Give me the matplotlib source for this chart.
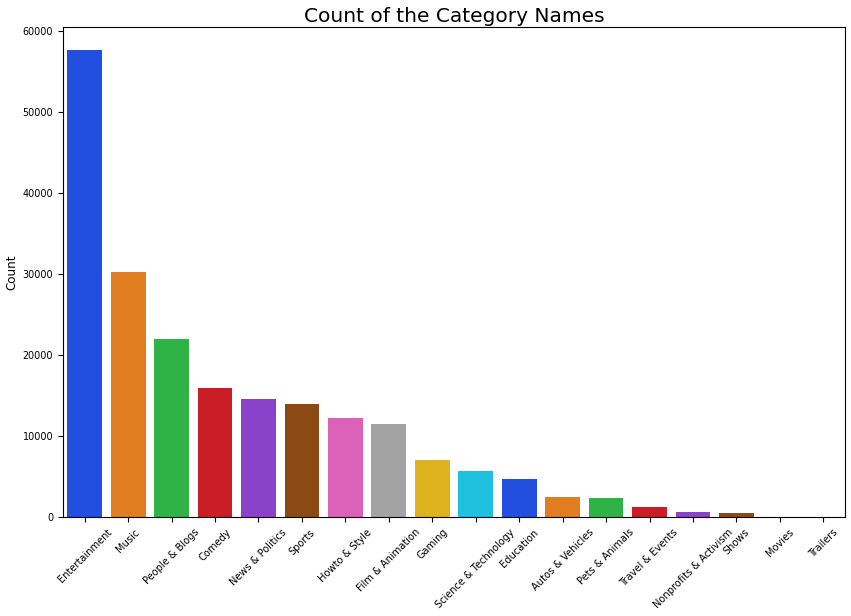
import matplotlib
matplotlib.use("Agg")
import matplotlib.pyplot as plt
import colorsys

categories = ["Entertainment", "Music", "People & Blogs", "Comedy", "News & Politics",
              "Sports", "Howto & Style", "Film & Animation", "Gaming", "Science & Technology",
              "Education", "Autos & Vehicles", "Pets & Animals", "Travel & Events",
              "Nonprofits & Activism", "Shows", "Movies", "Trailers"]
counts = [57700, 30300, 22000, 15950, 14600, 14000, 12250, 11500, 7080, 5720,
          4730, 2500, 2380, 1250, 650, 500, 12, 8]

base = ["#023eff", "#ff7c00", "#1ac938", "#e8000b", "#8b2be2",
        "#9f4800", "#f14cc1", "#a3a3a3", "#ffc400", "#00d7ff"]

def desat(hexc, prop=0.75):
    r, g, b = matplotlib.colors.to_rgb(hexc)
    h, l, s = colorsys.rgb_to_hls(r, g, b)
    return colorsys.hls_to_rgb(h, l, s * prop)

colors = [desat(base[i % len(base)]) for i in range(len(categories))]

fig = plt.figure(figsize=(8.51, 6.16), dpi=100)
ax = fig.add_axes([0.074, 0.160, 0.919, 0.796])
x = list(range(len(categories)))
ax.bar(x, counts, width=0.8, color=colors)
ax.set_xlim(-0.5, len(categories) - 0.5)
ax.set_ylim(0, 60500)
ax.set_xticks(x)
ax.set_xticklabels(categories, rotation=45, fontsize=7.1)
ax.tick_params(axis="y", labelsize=6.9)
ax.tick_params(length=3.5, width=0.8)
ax.set_ylabel("Count", fontsize=8.6, labelpad=3)
ax.set_title("Count of the Category Names", fontsize=14.5, pad=4)
fig.savefig("out.png", dpi=100)
